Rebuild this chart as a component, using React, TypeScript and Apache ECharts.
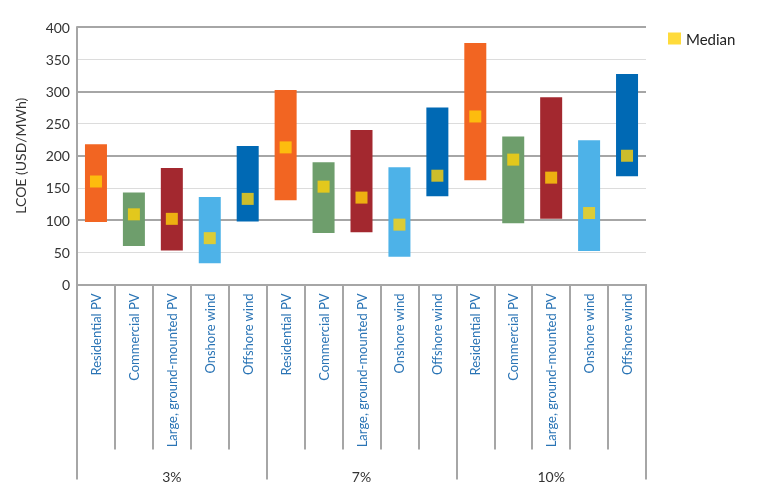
import React, { useEffect, useRef } from "react";
import * as echarts from "echarts";

const techs = ["Residential PV", "Commercial PV", "Large, ground-mounted PV", "Onshore wind", "Offshore wind"];
const rates = ["3%", "7%", "10%"];
const categories = rates.flatMap(() => techs);
const lowValues = [97, 60, 53, 33, 98, 131, 80, 81, 43, 137, 162, 95, 102, 52, 168];
const highValues = [218, 143, 181, 136, 215, 302, 190, 240, 182, 275, 375, 230, 291, 224, 327];
const medianValues = [160, 109, 102, 72, 133, 213, 152, 135, 93, 169, 261, 194, 166, 111, 200];
const yTicks = { min: 0, max: 400, interval: 50 };

const techColors = ["#F26522", "#6E9E6C", "#A3282F", "#4DB2E8", "#0069B4"];
const medianColor = "#FFD20A";
const FONT = "Lato";

export default function App() {
  const ref = useRef<HTMLDivElement>(null);
  useEffect(() => {
    if (!ref.current) return;
    const chart = echarts.init(ref.current, null, { renderer: "svg" });
    const rangeData = categories.map((_, i) => [i, lowValues[i], highValues[i]]);
    const medianData = categories.map((_, i) => [i, medianValues[i]]);
    chart.setOption({
      animation: false,
      textStyle: { fontFamily: FONT },
      grid: { left: 77, right: 134, top: 27, bottom: 205.5, containLabel: false },
      legend: {
        left: 663,
        top: 26,
        itemWidth: 13,
        itemHeight: 12,
        itemGap: 10,
        data: [{ name: "Median", icon: "rect" }],
        textStyle: { fontFamily: FONT, fontSize: 15, color: "#222" },
      },
      xAxis: [
        {
          type: "category",
          data: categories,
          position: "bottom",
          boundaryGap: true,
          axisLine: { show: true, lineStyle: { color: "#A6A6A6", width: 2 } },
          axisTick: { show: true, length: 165, interval: 0, lineStyle: { color: "#A6A6A6", width: 2 } },
          axisLabel: {
            interval: 0,
            rotate: 90,
            margin: 9,
            fontFamily: FONT,
            fontSize: 13,
            color: "#2A74B5",
          },
          splitLine: { show: false },
        },
        {
          type: "category",
          data: rates,
          position: "bottom",
          boundaryGap: true,
          axisLine: { show: false },
          axisTick: { show: true, length: 195, interval: 0, lineStyle: { color: "#A6A6A6", width: 2 } },
          axisLabel: { interval: 0, margin: 185, fontFamily: FONT, fontSize: 14, color: "#333" },
          splitLine: { show: false },
        },
      ],
      yAxis: [
        {
          type: "value",
          min: yTicks.min,
          max: yTicks.max,
          interval: yTicks.interval,
          name: "LCOE (USD/MWh)",
          nameLocation: "middle",
          nameGap: 50,
          nameRotate: 90,
          nameTextStyle: { fontFamily: FONT, fontSize: 14, color: "#333" },
          axisLine: { show: true, lineStyle: { color: "#A6A6A6", width: 2 } },
          axisTick: { show: false },
          axisLabel: { margin: 7, fontFamily: FONT, fontSize: 14, color: "#333" },
          splitLine: { show: true, lineStyle: { color: "#DCDCDC", width: 1 } },
        },
        {
          type: "value",
          min: yTicks.min,
          max: yTicks.max,
          interval: yTicks.interval * 2,
          position: "left",
          axisLine: { show: false },
          axisTick: { show: false },
          axisLabel: { show: false },
          splitLine: { show: true, lineStyle: { color: "#A6A6A6", width: 2 } },
        },
      ],
      series: [
        {
          type: "custom",
          name: "Range",
          xAxisIndex: 0,
          yAxisIndex: 0,
          data: rangeData,
          encode: { x: 0, y: [1, 2] },
          renderItem: (params: any, api: any) => {
            const idx = api.value(0);
            const lo = api.coord([idx, api.value(1)]);
            const hi = api.coord([idx, api.value(2)]);
            const bandW = api.size([1, 0])[0];
            const w = bandW * 0.58;
            return {
              type: "rect",
              shape: { x: lo[0] - w / 2, y: hi[1], width: w, height: lo[1] - hi[1] },
              style: { fill: techColors[idx % techColors.length] },
            };
          },
          z: 3,
        },
        {
          type: "scatter",
          name: "Median",
          xAxisIndex: 0,
          yAxisIndex: 0,
          data: medianData,
          symbol: "rect",
          symbolSize: [12, 12],
          itemStyle: { color: medianColor },
          z: 5,
        },
      ],
    });
    return () => chart.dispose();
  }, []);
  return <div ref={ref} style={{ position: "fixed", left: 0, top: 0, width: 780, height: 490 }} />;
}
